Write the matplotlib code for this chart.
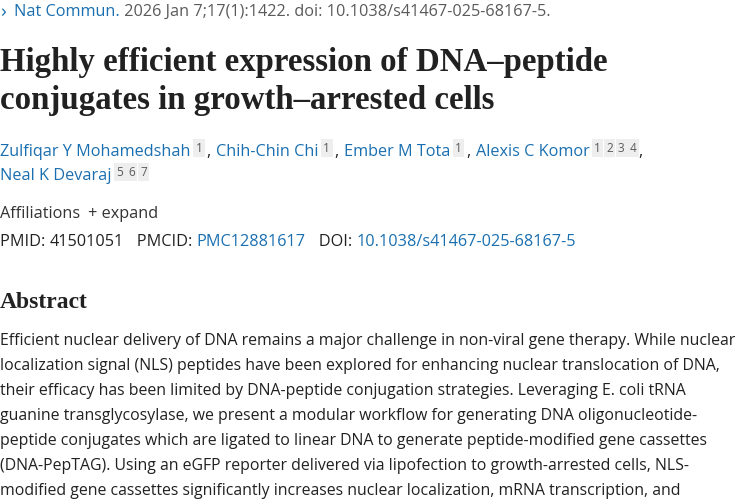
import matplotlib
matplotlib.use("Agg")
import matplotlib.pyplot as plt

BLUE = "#1a6fb0"
GRAY = "#5a5a5a"
DARK = "#212121"

citation = ["Nat Commun.", " 2026 Jan 7;17(1):1422. doi: 10.1038/s41467-025-68167-5."]
title_lines = ["Highly efficient expression of DNA\u2013peptide", "conjugates in growth\u2013arrested cells"]
authors1 = [("Zulfiqar Y Mohamedshah", ["1"]), ("Chih-Chin Chi", ["1"]), ("Ember M Tota", ["1"]),
            ("Alexis C Komor", ["1", "2", "3", "4"])]
authors2 = [("Neal K Devaraj", ["5", "6", "7"])]
ids = [("PMID: ", DARK), ("41501051", DARK), ("   PMCID: ", DARK), ("PMC12881617", BLUE),
       ("   DOI: ", DARK), ("10.1038/s41467-025-68167-5", BLUE)]
abstract_lines = [
    "Efficient nuclear delivery of DNA remains a major challenge in non-viral gene therapy. While nuclear",
    "localization signal (NLS) peptides have been explored for enhancing nuclear translocation of DNA,",
    "their efficacy has been limited by DNA-peptide conjugation strategies. Leveraging E. coli tRNA",
    "guanine transglycosylase, we present a modular workflow for generating DNA oligonucleotide-",
    "peptide conjugates which are ligated to linear DNA to generate peptide-modified gene cassettes",
    "(DNA-PepTAG). Using an eGFP reporter delivered via lipofection to growth-arrested cells, NLS-",
    "modified gene cassettes significantly increases nuclear localization, mRNA transcription, and",
]

W, H = 750, 500
fig = plt.figure(figsize=(7.5, 5), dpi=100)
fig.patch.set_facecolor("white")
r = fig.canvas.get_renderer()
SANS = ["Open Sans", "DejaVu Sans"]
SERIF = ["Liberation Serif", "DejaVu Serif"]
FS = 11.7

def put(x, y, s, color=DARK, size=11, family=SANS, weight="normal", box=None):
    t = fig.text(x / W, 1 - y / H, s, color=color, fontsize=size, family=family,
                 weight=weight, va="center", ha="left", bbox=box)
    bb = t.get_window_extent(renderer=r)
    return x + bb.width

def fit(s, target, family=SANS, weight="normal"):
    t = fig.text(0, 0, s, fontsize=10, family=family, weight=weight)
    w = t.get_window_extent(renderer=r).width
    t.remove()
    return 10 * target / w

# citation
put(0, 12, "\u203a", BLUE, 14)
x = put(14, 12, citation[0], BLUE, FS)
put(x, 12, citation[1], GRAY, FS)

# title
ts = fit(title_lines[0], 610, SERIF, "bold")
put(0, 62, title_lines[0], DARK, ts, SERIF, "bold")
put(0, 100, title_lines[1], DARK, ts, SERIF, "bold")

SUPBOX = dict(boxstyle="square,pad=0.2", fc="#eeeeee", ec="none")
def author_line(y, items, trailing):
    x = 0
    for i, (name, sups) in enumerate(items):
        if i > 0:
            x = put(x, y, ", ", DARK, FS)
        x = put(x, y, name, BLUE, FS)
        x += 5
        for s in sups:
            x = put(x, y - 4, s, GRAY, 8.5, box=SUPBOX) + 5
    if trailing:
        put(x - 3, y, ",", DARK, FS)

author_line(152, authors1, True)
author_line(176, authors2, False)

x = put(0, 214, "Affiliations", "#333333", FS)
put(x + 8, 214, "+ expand", "#333333", FS)

x = 0
for s, c in ids:
    x = put(x, 242, s, c, FS)

put(0, 302, "Abstract", DARK, 17, SERIF, "bold")

bs = fit(abstract_lines[0], 734)
for i, line in enumerate(abstract_lines):
    put(0, 341 + 25 * i, line, DARK, bs)

fig.savefig("out.png", dpi=100, facecolor="white")
